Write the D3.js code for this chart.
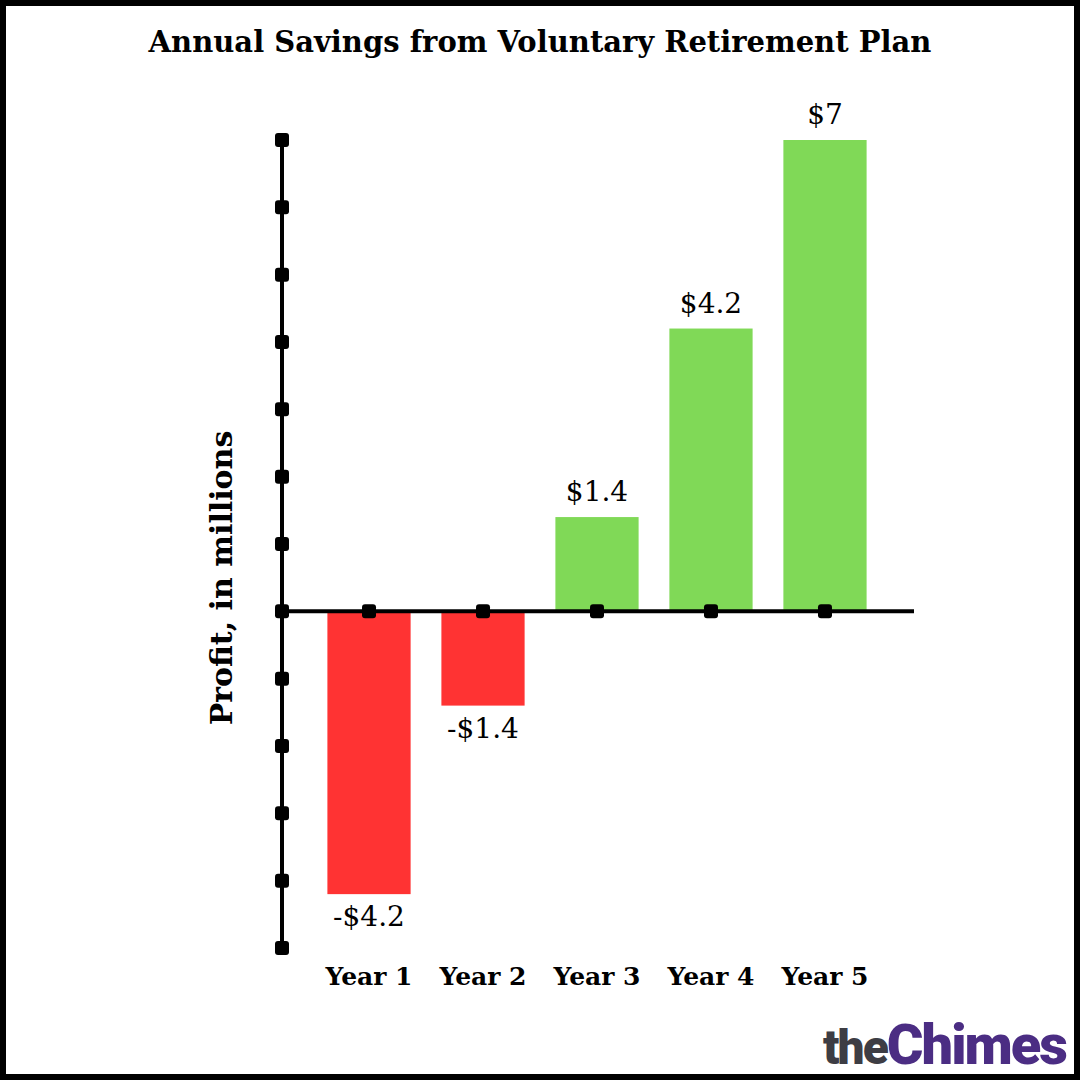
<!DOCTYPE html>
<html><head><meta charset="utf-8">
<script src="https://cdn.jsdelivr.net/npm/d3@7"></script>
<style>body{margin:0;background:#fff}</style>
</head><body>
<svg id="chart" width="1080" height="1080"></svg>
<script>
// chart data
var years = ["Year 1", "Year 2", "Year 3", "Year 4", "Year 5"];
var profits = [-4.2, -1.4, 1.4, 4.2, 7];
var valueLabels = ["-$4.2", "-$1.4", "$1.4", "$4.2", "$7"];
var yTicks = [-5, -4, -3, -2, -1, 0, 1, 2, 3, 4, 5, 6, 7];

var svg = d3.select("#chart");
var serif = "'DejaVu Serif', 'Liberation Serif', serif";

// frame
svg.append("rect").attr("x", 3).attr("y", 3).attr("width", 1074).attr("height", 1074)
  .attr("fill", "#fff").attr("stroke", "#000").attr("stroke-width", 6);

var y = d3.scaleLinear().domain([-5, 7]).range([948, 140]);
var x = d3.scaleBand().domain(years).range([316, 878]).paddingInner(0.27).paddingOuter(0.1);

svg.append("text").attr("x", 540).attr("y", 52).attr("text-anchor", "middle")
  .attr("font-family", serif).attr("font-weight", "bold").attr("font-size", 29)
  .text("Annual Savings from Voluntary Retirement Plan");

// bars
svg.selectAll(".bar").data(profits).enter().append("rect")
  .attr("x", function (d, i) { return x(years[i]); })
  .attr("y", function (d) { return y(Math.max(0, d)); })
  .attr("width", x.bandwidth())
  .attr("height", function (d) { return Math.abs(y(d) - y(0)); })
  .attr("fill", function (d) { return d < 0 ? "#ff3333" : "#80d957"; });

svg.selectAll(".vlabel").data(profits).enter().append("text")
  .attr("x", function (d, i) { return x(years[i]) + x.bandwidth() / 2; })
  .attr("y", function (d) { return d < 0 ? y(d) + 32 : y(d) - 16; })
  .attr("text-anchor", "middle").attr("font-family", serif).attr("font-size", 28)
  .text(function (d, i) { return valueLabels[i]; });

// axes
svg.append("line").attr("x1", 282).attr("x2", 282).attr("y1", y(7)).attr("y2", y(-5))
  .attr("stroke", "#000").attr("stroke-width", 4);
svg.append("line").attr("x1", 282).attr("x2", 914).attr("y1", y(0)).attr("y2", y(0))
  .attr("stroke", "#000").attr("stroke-width", 4);

svg.selectAll(".ytick").data(yTicks).enter().append("rect")
  .attr("x", 275).attr("y", function (d) { return y(d) - 7; })
  .attr("width", 14).attr("height", 14).attr("rx", 3).attr("fill", "#000");

svg.selectAll(".xtick").data(years).enter().append("rect")
  .attr("x", function (d) { return x(d) + x.bandwidth() / 2 - 7; })
  .attr("y", y(0) - 7).attr("width", 14).attr("height", 14).attr("rx", 3).attr("fill", "#000");

svg.selectAll(".xlabel").data(years).enter().append("text")
  .attr("x", function (d) { return x(d) + x.bandwidth() / 2; })
  .attr("y", 985).attr("text-anchor", "middle")
  .attr("font-family", serif).attr("font-weight", "bold").attr("font-size", 25)
  .text(function (d) { return d; });

svg.append("text").attr("transform", "translate(232,578) rotate(-90)")
  .attr("text-anchor", "middle").attr("font-family", serif).attr("font-weight", "bold")
  .attr("font-size", 30).text("Profit, in millions");

// logo
var logo = svg.append("text").attr("x", 1066).attr("y", 1064).attr("text-anchor", "end")
  .attr("font-family", "Roboto, 'Open Sans', sans-serif").attr("font-weight", 900)
  .attr("font-size", 56).attr("letter-spacing", -2);
logo.append("tspan").attr("fill", "#3d3d44").attr("font-size", 48).text("the");
logo.append("tspan").attr("fill", "#4b2d83").text("Chimes");
</script>
</body></html>
